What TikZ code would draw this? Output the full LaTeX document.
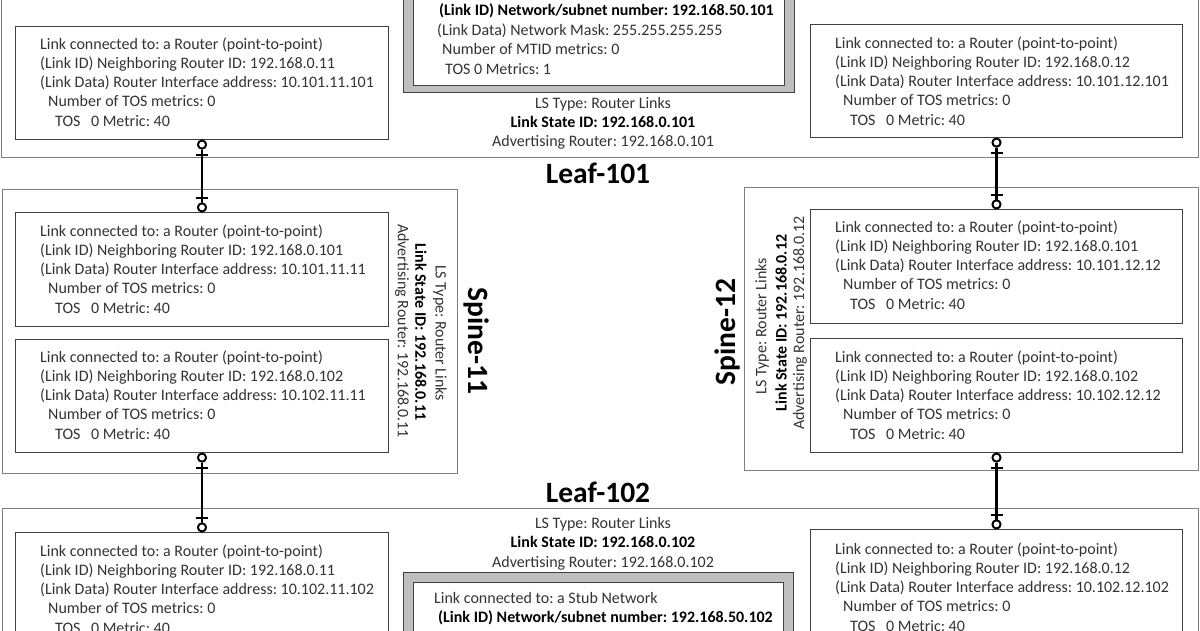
\documentclass[tikz,border=0pt]{standalone}
\usepackage{fontspec}
\setmainfont{Carlito}
\usetikzlibrary{calc}
\frenchspacing
\definecolor{txtgray}{HTML}{333333}
\definecolor{boxline}{HTML}{404040}
\definecolor{outline}{HTML}{808080}
\definecolor{framefill}{HTML}{BFBFBF}
\tikzset{
  txt/.style={inner sep=0pt, anchor=base west, text=txtgray, font=\fontsize{16}{19}\selectfont},
  btxt/.style={txt, text=black, font=\bfseries\fontsize{16}{19}\selectfont},
  ctr/.style={txt, anchor=base},
  bctr/.style={btxt, anchor=base},
  rtxt/.style={txt, anchor=center},
  brtxt/.style={btxt, anchor=center},
  lbl/.style={inner sep=0pt, text=black, font=\bfseries\fontsize{29.5}{32}\selectfont},
  ibox/.style={draw=boxline, line width=1pt, fill=white, inner sep=0pt, anchor=north west},
  obox/.style={draw=outline, line width=1.4pt, inner sep=0pt, anchor=north west},
  gframe/.style={draw=boxline, line width=1pt, fill=framefill, inner sep=0pt, anchor=north west},
  endc/.style={circle, draw=black, line width=1.8pt, fill=white, minimum size=8pt, inner sep=0pt},
  conn/.style={draw=black, line width=2.4pt},
  tickl/.style={draw=black, line width=1.8pt}
}
\newcommand{\RLinkBox}[8]{%
  \node[ibox, minimum width={(#4-#2)*1pt}, minimum height={(#5-#3)*1pt}] (#1) at (#2,#3) {};
  \node[txt] (#1-1) at (#2+25,#6) {Link connected to: a Router (point-to-point)};
  \node[txt] (#1-2) at (#2+25,#6+19.3) {(Link ID) Neighboring Router ID: #7};
  \node[txt] (#1-3) at (#2+25,#6+38.6) {(Link Data) Router Interface address: #8};
  \node[txt] (#1-4) at (#2+33,#6+57.9) {Number of TOS metrics: 0};
  \node[txt] (#1-5) at (#2+40,#6+77.2) {TOS\hspace{7pt} 0 Metric: 40};
}
\newcommand{\ZeroOne}[3]{% #1 name, #2 top box, #3 bottom box
  \node[endc] (#1t) at ($(#2.south)+(0,4.6)$) {};
  \node[endc] (#1b) at ($(#3.north)+(0,-4.6)$) {};
  \draw[conn] (#1t) -- (#1b);
  \draw[tickl] ($(#1t.center)+(-6,10)$) -- ++(12,0);
  \draw[tickl] ($(#1b.center)+(-6,-9.5)$) -- ++(12,0);
  \node[endc] at (#1t.center) {};
  \node[endc] at (#1b.center) {};
}
\begin{document}
\begin{tikzpicture}[x=1pt,y=-1pt]
\useasboundingbox (0,0) rectangle (1200,630);
\clip (0,0) rectangle (1200,630);
\fill[white] (0,0) rectangle (1200,630);

% outer boxes
\node[obox, minimum width=1197pt, minimum height=177pt] (leaf101box) at (1,-20) {};
\node[obox, minimum width=455pt, minimum height=284pt] (spine11box) at (2,189) {};
\node[obox, minimum width=454pt, minimum height=283pt] (spine12box) at (744,187) {};
\node[obox, minimum width=1196pt, minimum height=150pt] (leaf102box) at (2,508) {};

% Leaf-101 stub network
\node[gframe, minimum width=391pt, minimum height=112pt] (stub1) at (403,-20) {};
\node[ibox, minimum width=371pt, minimum height=105pt] (stub1in) at (413,-20) {};
\node[btxt] (s1l2) at (439,15) {(Link ID) Network/subnet number: 192.168.50.101};
\node[txt] (s1l3) at (437,35) {(Link Data) Network Mask: 255.255.255.255};
\node[txt] (s1l4) at (442,54) {Number of MTID metrics: 0};
\node[txt] (s1l5) at (445,74) {TOS 0 Metrics: 1};

\node[ctr] (l101a) at (603,108) {LS Type: Router Links};
\node[bctr] (l101b) at (603,127) {Link State ID: 192.168.0.101};
\node[ctr] (l101c) at (603,146) {Advertising Router: 192.168.0.101};

\RLinkBox{L1a}{15}{26}{388}{139}{49}{192.168.0.11}{10.101.11.101}
\RLinkBox{L1b}{810}{24}{1182}{137}{48}{192.168.0.12}{10.101.12.101}

\node[lbl] (leaf101) at (598,173) {Leaf-101};

% Spine-11
\RLinkBox{S11a}{15}{212}{388}{326}{236}{192.168.0.101}{10.101.11.11}
\RLinkBox{S11b}{15}{339}{388}{452}{362}{192.168.0.102}{10.102.11.11}
\node[rtxt, rotate=-90] (s11a) at (440,333) {LS Type: Router Links};
\node[brtxt, rotate=-90] (s11b) at (421,332) {Link State ID: 192.168.0.11};
\node[rtxt, rotate=-90] (s11c) at (402,331) {Advertising Router: 192.168.0.11};
\node[lbl, rotate=-90] (spine11) at (477,341) {Spine-11};

% Spine-12
\RLinkBox{S12a}{810}{209}{1182}{323}{232}{192.168.0.101}{10.101.12.12}
\RLinkBox{S12b}{810}{338}{1182}{452}{362}{192.168.0.102}{10.102.12.12}
\node[rtxt, rotate=90] (s12a) at (762,326) {LS Type: Router Links};
\node[brtxt, rotate=90] (s12b) at (781,323) {Link State ID: 192.168.0.12};
\node[rtxt, rotate=90] (s12c) at (800,323) {Advertising Router: 192.168.0.12};
\node[lbl, rotate=90] (spine12) at (727,332) {Spine-12};

% Leaf-102
\node[lbl] (leaf102) at (598,492) {Leaf-102};
\node[ctr] (l102a) at (603,528) {LS Type: Router Links};
\node[bctr] (l102b) at (603,547.5) {Link State ID: 192.168.0.102};
\node[ctr] (l102c) at (603,567) {Advertising Router: 192.168.0.102};

\node[gframe, minimum width=390pt, minimum height=90pt] (stub2) at (403,572) {};
\node[ibox, minimum width=370pt, minimum height=80pt] (stub2in) at (413,582) {};
\node[txt] (s2l1) at (434,603) {Link connected to: a Stub Network};
\node[btxt] (s2l2) at (438,622) {(Link ID) Network/subnet number: 192.168.50.102};

\RLinkBox{L2a}{15}{532}{388}{660}{556}{192.168.0.11}{10.102.11.102}
\RLinkBox{L2b}{810}{529}{1182}{660}{554}{192.168.0.12}{10.102.12.102}

% connectors
\ZeroOne{ca}{L1a}{S11a}
\ZeroOne{cb}{L1b}{S12a}
\ZeroOne{cc}{S11b}{L2a}
\ZeroOne{cd}{S12b}{L2b}
\end{tikzpicture}
\end{document}
